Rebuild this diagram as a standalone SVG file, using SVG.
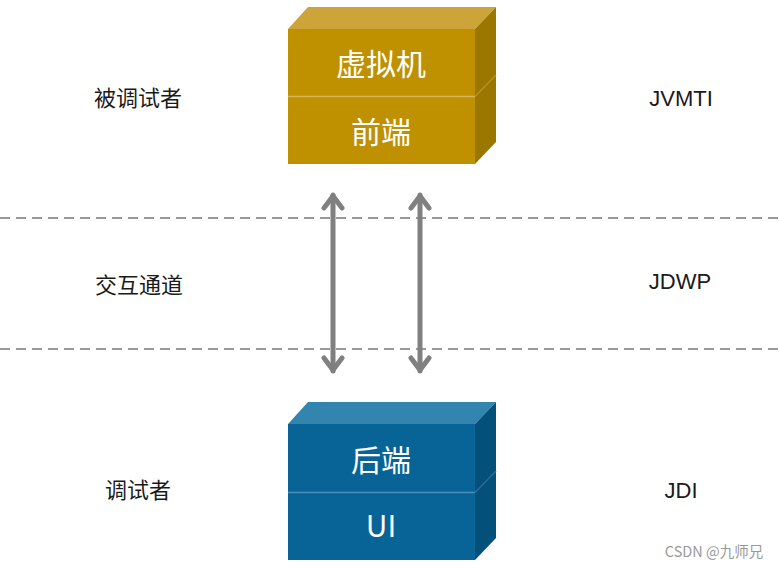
<svg xmlns="http://www.w3.org/2000/svg" width="779" height="568" viewBox="0 0 779 568">
<style>
.lbl{font-family:"Noto Sans CJK SC","Liberation Sans",sans-serif;font-size:22px;fill:#1a1a1a;text-anchor:middle}
.lat{font-family:"Liberation Sans",sans-serif;font-size:22px;fill:#1a1a1a;text-anchor:middle}
.box{font-family:"Noto Sans CJK SC","Liberation Sans",sans-serif;font-size:30px;fill:#ffffff;text-anchor:middle}
.dash{stroke:#999;stroke-width:2;stroke-dasharray:10 6;fill:none}
.arr{stroke:#808080;stroke-width:5;fill:none;stroke-linecap:round;stroke-linejoin:round}
.wm{font-family:"Noto Sans CJK SC","Liberation Sans",sans-serif;font-size:14.5px;fill:#999;text-anchor:middle}
</style>
<rect width="779" height="568" fill="#fff"/>
<g id="top-box">
<polygon points="288,29 308,7 496,7 475,29" fill="#CCA43A"/>
<polygon points="475,29 496,7 496,142 475,164" fill="#9C7700"/>
<rect x="288" y="29" width="187" height="135" fill="#BF9000"/>
<line x1="288" y1="96.5" x2="475" y2="96.5" stroke="#D6B65A" stroke-width="1.5"/>
<line x1="475" y1="96.5" x2="496" y2="75" stroke="#B89020" stroke-width="1.5"/>
<text class="box" x="381" y="75">虚拟机</text>
<text class="box" x="381" y="143">前端</text>
</g>
<g id="bottom-box">
<polygon points="288,424 308,402 496,402 475,424" fill="#3185AF"/>
<polygon points="475,424 496,402 496,538 475,560" fill="#03507B"/>
<rect x="288" y="424" width="187" height="136" fill="#086396"/>
<line x1="288" y1="492.5" x2="475" y2="492.5" stroke="#4A8FB8" stroke-width="1.5"/>
<line x1="475" y1="492.5" x2="496" y2="471" stroke="#2A6E96" stroke-width="1.5"/>
<text class="box" x="381" y="471">后端</text>
<text class="box" x="381" y="537">UI</text>
</g>
<g id="connectors">
<line class="dash" x1="0" y1="218" x2="779" y2="218"/>
<line class="dash" x1="0" y1="349" x2="779" y2="349"/>
<line class="arr" x1="333" y1="195" x2="333" y2="371"/>
<polyline class="arr" points="324,208 333,196 342,208"/>
<polyline class="arr" points="324,358 333,370 342,358"/>
<line class="arr" x1="420" y1="195" x2="420" y2="371"/>
<polyline class="arr" points="411,208 420,196 429,208"/>
<polyline class="arr" points="411,358 420,370 429,358"/>
</g>
<g id="labels">
<text class="lbl" x="138" y="106">被调试者</text>
<text class="lbl" x="139" y="293">交互通道</text>
<text class="lbl" x="138" y="498">调试者</text>
<text class="lat" x="681" y="106">JVMTI</text>
<text class="lat" x="680" y="289">JDWP</text>
<text class="lat" x="681" y="498">JDI</text>
<text class="wm" x="714" y="557">CSDN @九师兄</text>
</g>
</svg>
